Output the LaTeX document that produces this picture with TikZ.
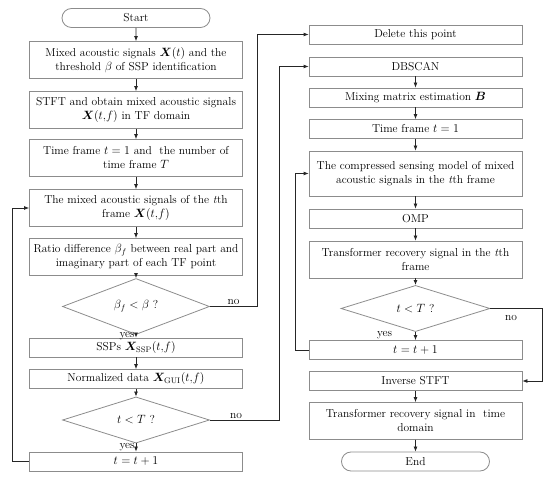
\documentclass[tikz,border=0pt]{standalone}
\usepackage{bm}
\usetikzlibrary{shapes.geometric,shapes.misc,arrows.meta}
\definecolor{boxgray}{gray}{0.55}
\definecolor{linegray}{gray}{0.15}
\begin{document}
\begin{tikzpicture}[x=1pt,y=-1pt,
  every node/.style={font=\fontsize{11.5}{14}\selectfont},
  box/.style={draw=boxgray, line width=0.8pt, minimum width=213pt,
    inner xsep=3pt, inner ysep=1pt, align=center, minimum height=19pt},
  twol/.style={minimum height=37pt},
  term/.style={draw=boxgray, line width=0.8pt, rounded rectangle, minimum width=150pt,
    minimum height=19pt, inner sep=1pt},
  dia/.style={draw=boxgray, line width=0.8pt, diamond, minimum width=147pt,
    minimum height=37pt, inner sep=0pt},
  arr/.style={draw=linegray, line width=0.8pt, -{Latex[length=5pt,width=4pt]}},
  lbl/.style={inner sep=1pt}
]
\useasboundingbox (0,0) rectangle (550,481);
% left column
\node[term] (start) at (136,18) {Start};
\node[box,twol] (b1) at (136,60) {Mixed acoustic signals $\bm{X}(t)$ and the\\ threshold $\beta$ of SSP identification};
\node[box,twol] (b2) at (136,110) {STFT and obtain mixed acoustic signals\\ $\bm{X}(t{,}f)$ in TF domain};
\node[box,twol] (b3) at (136,158) {Time frame $t=1$ and\ \ the number of\\ time frame $T$};
\node[box,twol] (b4) at (136,208) {The mixed acoustic signals of the \textit{t}th\\ frame $\bm{X}(t{,}f)$};
\node[box,twol] (b5) at (136,257) {Ratio difference $\beta_f$ between real part and\\ imaginary part of each TF point};
\node[dia] (d1) at (136,306.5) {$\beta_f<\beta$ ?};
\node[box] (b6) at (136,347.5) {SSPs $\bm{X}_{\mathrm{SSP}}(t{,}f)$};
\node[box] (b7) at (136,379) {Normalized data $\bm{X}_{\mathrm{GUI}}(t{,}f)$};
\node[dia] (d2) at (136,420) {$t<T$ ?};
\node[box] (b8) at (136,461.5) {$t=t+1$};
% right column
\node[box] (del) at (415.5,34.5) {Delete this point};
\node[box] (dbs) at (415.5,66.5) {DBSCAN};
\node[box] (mix) at (415.5,97.5) {Mixing matrix estimation $\bm{B}$};
\node[box] (tf1) at (415.5,129) {Time frame $t=1$};
\node[box,minimum height=45pt] (cs) at (415.5,173.5) {The compressed sensing model of mixed\\ acoustic signals in the \textit{t}th frame};
\node[box] (omp) at (415.5,218.5) {OMP};
\node[box,twol] (tr) at (415.5,259.5) {Transformer recovery signal in the \textit{t}th\\ frame};
\node[dia,minimum width=149pt] (d3) at (415.5,308.5) {$t<T$ ?};
\node[box] (inc) at (415.5,350) {$t=t+1$};
\node[box] (ist) at (415.5,381) {Inverse STFT};
\node[box,twol] (trt) at (415.5,421) {Transformer recovery signal in\ \ time\\ domain};
\node[term] (end) at (415.5,461.5) {End};
% helper coordinates
\coordinate (xl) at (12,0);
\coordinate (xn1) at (257,0);
\coordinate (xn2) at (279,0);
\coordinate (xr) at (295,0);
\coordinate (xe) at (542,0);
% left arrows
\draw[arr] (start) -- (b1);
\draw[arr] (b1) -- (b2);
\draw[arr] (b2) -- (b3);
\draw[arr] (b3) -- (b4);
\draw[arr] (b4) -- (b5);
\draw[arr] (b5) -- (d1);
\draw[arr] (d1) -- node[lbl,left,pos=0.45]{yes} (b6);
\draw[arr] (b6) -- (b7);
\draw[arr] (b7) -- (d2);
\draw[arr] (d2) -- node[lbl,left,pos=0.45]{yes} (b8);
\draw[arr] (b8.west) -- (b8.west -| xl) |- (b4.west);
\draw[arr] (d1.east) -- node[lbl,above,pos=0.5]{no} (d1.east -| xn1) |- (del.west);
\draw[arr] (d2.east) -- node[lbl,above,pos=0.38]{no} (d2.east -| xn2) |- (dbs.west);
% right arrows
\draw[arr] (dbs) -- (mix);
\draw[arr] (mix) -- (tf1);
\draw[arr] (tf1) -- (cs);
\draw[arr] (cs) -- (omp);
\draw[arr] (omp) -- (tr);
\draw[arr] (tr) -- (d3);
\draw[arr] (d3) -- node[lbl,left,pos=0.4,xshift=-22pt]{yes} (inc);
\draw[arr] (inc.west) -- (inc.west -| xr) |- (cs.west);
\draw[arr] (d3.east) -- node[lbl,below,pos=0.4,yshift=-5pt]{no} (d3.east -| xe) |- (ist.east);
\draw[arr] (ist) -- (trt);
\draw[arr] (trt) -- (end);
\end{tikzpicture}
\end{document}
